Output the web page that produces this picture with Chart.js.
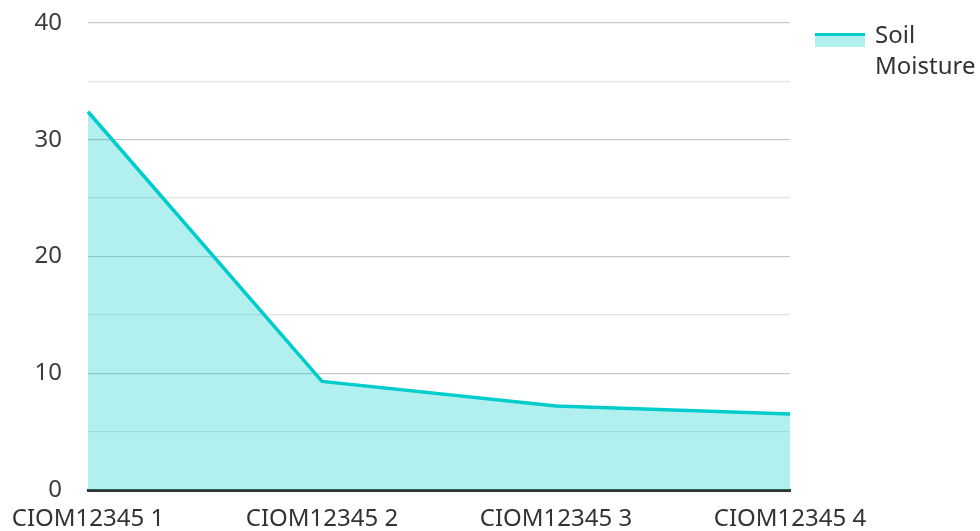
<!DOCTYPE html>
<html lang="en">
<head>
  <meta charset="UTF-8">
  <title>Soil Moisture</title>
  <script src="https://cdn.jsdelivr.net/npm/chart.js"></script>
  <style>
    html, body { margin: 0; padding: 0; background: #fff; }
    #wrap { width: 980px; height: 531px; }
  </style>
</head>
<body>
  <div id="wrap"><canvas id="moistureChart" width="980" height="531"></canvas></div>

  <script>
    // chart data
    const categories = ["CIOM12345 1", "CIOM12345 2", "CIOM12345 3", "CIOM12345 4"];
    const soilMoisture = [32.4, 9.3, 7.2, 6.5];
    const seriesName = "Soil Moisture";
    const yTicks = [0, 10, 20, 30, 40];

    const FONT = "'Noto Sans', 'Open Sans', sans-serif";

    // legend drawn by hand: line on top, fill under it, wrapped label
    const sideLegend = {
      id: "sideLegend",
      afterDraw(chart) {
        const ctx = chart.ctx;
        const ds = chart.data.datasets[0];
        const x = 815, y = 34;
        ctx.save();
        ctx.fillStyle = ds.backgroundColor;
        ctx.fillRect(x, y, 50, 13);
        ctx.fillStyle = ds.borderColor;
        ctx.fillRect(x, y - 1, 50, 3);
        ctx.fillStyle = "#333";
        ctx.font = "24px " + FONT;
        ctx.textBaseline = "middle";
        ctx.textAlign = "left";
        ds.label.split(" ").forEach((word, i) => {
          ctx.fillText(word, 875, 36 + i * 31);
        });
        ctx.restore();
      }
    };

    const ctx = document.getElementById("moistureChart").getContext("2d");
    new Chart(ctx, {
      type: "line",
      data: {
        labels: categories,
        datasets: [{
          label: seriesName,
          data: soilMoisture,
          borderColor: "#00cccc",
          backgroundColor: "rgba(0, 204, 204, 0.3)",
          borderWidth: 3.5,
          fill: "origin",
          tension: 0,
          pointRadius: 0,
          pointHoverRadius: 0
        }]
      },
      options: {
        responsive: false,
        animation: false,
        layout: { padding: { top: 23, right: 190, left: 0, bottom: 0 } },
        plugins: {
          legend: { display: false },
          tooltip: { enabled: false }
        },
        scales: {
          x: {
            offset: false,
            grid: { display: false, drawTicks: false },
            border: { display: true, color: "#333", width: 3 },
            ticks: {
              autoSkip: false,
              maxRotation: 0,
              padding: 15,
              color: "#333",
              font: { family: FONT, size: 24 }
            },
            afterFit(scale) {
              scale.height = 41;
              scale.paddingLeft = 0;
              scale.paddingRight = 0;
            }
          },
          y: {
            min: 0,
            max: 40,
            grid: {
              drawTicks: false,
              lineWidth: 1.3,
              color: c => (c.tick && yTicks.includes(c.tick.value)) ? "#c8c8c8" : "#e3e3e3"
            },
            border: { display: false },
            ticks: {
              stepSize: 5,
              padding: 26,
              color: "#3c3c3c",
              font: { family: FONT, size: 24 },
              callback: v => yTicks.includes(v) ? v : ""
            },
            afterFit(scale) {
              scale.width = 88;
              scale.paddingTop = 0;
              scale.paddingBottom = 0;
            }
          }
        }
      },
      plugins: [sideLegend]
    });
  </script>
</body>
</html>
